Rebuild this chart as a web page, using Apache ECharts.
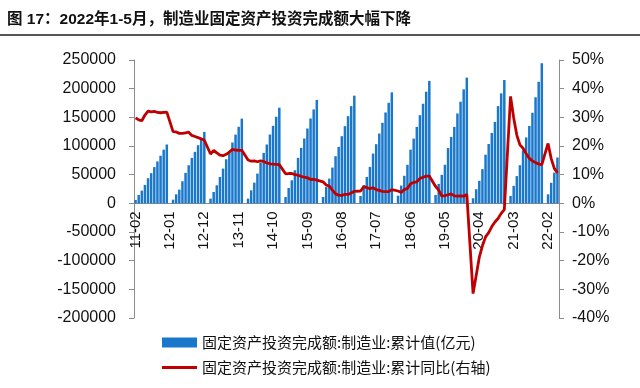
<!DOCTYPE html>
<html><head><meta charset="utf-8">
<script src="https://cdn.jsdelivr.net/npm/echarts@6/dist/echarts.min.js"></script>
<style>html,body{margin:0;padding:0;background:#fff}#c{width:640px;height:388px}</style>
</head><body><div id="c"></div>
<script>
// Monthly cumulative values (Feb..Dec), January has no data
const val2011 = [5900, 14600, 22200, 32200, 43900, 52600, 63200, 73100, 83000, 93600, 102600];
const val2012 = [6400, 15700, 23900, 38500, 53100, 66400, 79300, 89800, 101400, 113100, 124600];
const val2013 = [8200, 19800, 31500, 46000, 60600, 76900, 90900, 106100, 119900, 133500, 147700];
const val2014 = [8200, 22700, 36100, 51900, 70500, 88000, 102600, 120000, 135200, 151000, 166900];
const val2015 = [11000, 26800, 40200, 57700, 79300, 96700, 113000, 130500, 148000, 163800, 180400];
const val2016 = [11100, 28600, 43100, 62400, 82200, 98500, 117100, 134600, 152100, 169600, 187800];
const val2017 = [12800, 31500, 46000, 63500, 86800, 103200, 121800, 140500, 158500, 175400, 193600];
const val2018 = [13400, 31000, 48000, 67200, 93600, 112900, 133300, 153800, 173700, 194700, 213500];
const val2019 = [14600, 33900, 49700, 67300, 96500, 115800, 133300, 156700, 177200, 198800, 219300];
const val2020 = [8800, 24600, 39200, 59600, 84800, 103500, 122800, 142100, 169600, 191800, 215200];
const val2021 = [12800, 30500, 47500, 66500, 92400, 115000, 135000, 158000, 185000, 212000, 244400];
const val2022 = [15700, 35800, 53500, 80000];

// Cumulative YoY (%), Feb..Dec
const yoy2011 = [29.8, 29.1, 28.8, 30.8, 32.2, 31.9, 32.1, 31.7, 31.6, 31.7, 31.8];
const yoy2012 = [25.0, 24.9, 24.4, 24.4, 24.6, 24.8, 23.7, 23.3, 22.9, 22.5, 22.0];
const yoy2013 = [17.2, 18.5, 17.6, 16.8, 16.6, 17.1, 17.9, 18.8, 18.6, 18.5, 18.5];
const yoy2014 = [15.1, 14.7, 14.8, 14.5, 14.8, 14.6, 14.1, 13.8, 13.7, 13.6, 13.5];
const yoy2015 = [10.3, 10.4, 10.4, 10.0, 9.8, 9.4, 9.1, 8.9, 8.3, 8.4, 8.1];
const yoy2016 = [7.5, 6.4, 6.0, 4.6, 3.3, 2.8, 2.8, 3.1, 3.1, 3.6, 4.2];
const yoy2017 = [4.3, 5.8, 5.5, 5.1, 5.5, 4.8, 4.5, 4.2, 4.1, 4.1, 4.8];
const yoy2018 = [4.3, 3.8, 4.8, 5.2, 6.8, 7.3, 7.5, 8.7, 9.1, 9.5, 9.5];
const yoy2019 = [5.9, 4.6, 2.5, 2.7, 3.0, 3.3, 2.6, 2.5, 2.6, 2.5, 3.1];
const yoy2020 = [-31.5, -25.2, -18.8, -14.8, -11.7, -10.2, -8.1, -6.5, -5.3, -3.5, -2.2];
const yoy2021 = [37.3, 29.8, 23.8, 20.4, 19.2, 17.3, 15.7, 14.8, 14.2, 13.7, 13.5];
const yoy2022 = [20.9, 15.6, 12.2, 10.6];

const leftTicks = {min: -200000, max: 250000, interval: 50000};
const rightTicks = {min: -40, max: 50, interval: 10};
const seriesNames = ['固定资产投资完成额:制造业:累计值(亿元)', '固定资产投资完成额:制造业:累计同比(右轴)'];
const titleText = '图 17：2022年1-5月，制造业固定资产投资完成额大幅下降';

const valYears = [val2011, val2012, val2013, val2014, val2015, val2016, val2017, val2018, val2019, val2020, val2021, val2022];
const yoyYears = [yoy2011, yoy2012, yoy2013, yoy2014, yoy2015, yoy2016, yoy2017, yoy2018, yoy2019, yoy2020, yoy2021, yoy2022];

// Build month categories 11-02 .. 22-05 and series with null for January
const categories = [], barData = [], lineData = [];
valYears.forEach((arr, yi) => {
  const yy = String(11 + yi).padStart(2, '0');
  if (yi > 0) { categories.push(yy + '-01'); barData.push(null); lineData.push(null); }
  arr.forEach((v, mi) => {
    categories.push(yy + '-' + String(mi + 2).padStart(2, '0'));
    barData.push(v);
    lineData.push(yoyYears[yi][mi]);
  });
});

const GRID_TOP = 60, GRID_BOTTOM = 70, H = 388;
const plotH = H - GRID_TOP - GRID_BOTTOM;
// place the category axis at the zero of the left value axis
const zeroFromBottom = plotH * (0 - leftTicks.min) / (leftTicks.max - leftTicks.min);

const chart = echarts.init(document.getElementById('c'));
const axisColor = '#8c8c8c';
const legendText = {fontSize: 15, color: '#111', fontFamily: '"Noto Sans CJK SC"'};
chart.setOption({
  animation: false,
  title: {
    text: titleText, left: 2, top: 7,
    textStyle: {fontSize: 15.5, fontWeight: 'bold', color: '#111', fontFamily: 'Arial, "Noto Sans CJK SC"'}
  },
  graphic: [{type: 'rect', shape: {x: 0, y: 34, width: 640, height: 2}, style: {fill: '#555'}}],
  grid: {left: 134, right: 81, top: GRID_TOP, bottom: GRID_BOTTOM},
  legend: [{
    left: 157, top: 330, itemWidth: 35, itemHeight: 10,
    textStyle: legendText,
    data: [{name: seriesNames[0], icon: 'rect'}]
  }, {
    left: 157, top: 355, itemWidth: 35, itemHeight: 3,
    textStyle: legendText,
    data: [{name: seriesNames[1], icon: 'rect', itemStyle: {color: '#C00000'}}]
  }],
  xAxis: {
    type: 'category', data: categories, boundaryGap: true, position: 'bottom',
    offset: -zeroFromBottom,
    axisLine: {onZero: false, lineStyle: {color: axisColor, width: 1}},
    axisTick: {interval: 10, alignWithLabel: true, length: 4, lineStyle: {color: axisColor}},
    axisLabel: {interval: 10, rotate: 90, margin: 8, fontSize: 15, color: '#111', fontFamily: 'Arial'}
  },
  yAxis: [{
    type: 'value', min: leftTicks.min, max: leftTicks.max, interval: leftTicks.interval,
    splitLine: {show: false},
    axisLine: {show: true, onZero: false, lineStyle: {color: axisColor}},
    axisTick: {show: true, length: 5, lineStyle: {color: axisColor}},
    axisLabel: {fontSize: 16, color: '#111', margin: 18, fontFamily: 'Arial', formatter: v => String(v)}
  }, {
    type: 'value', min: rightTicks.min, max: rightTicks.max, interval: rightTicks.interval,
    splitLine: {show: false},
    axisLine: {show: true, onZero: false, lineStyle: {color: axisColor}},
    axisTick: {show: true, length: 5, lineStyle: {color: axisColor}},
    axisLabel: {fontSize: 16, color: '#111', margin: 13, fontFamily: 'Arial', formatter: '{value}%'}
  }],
  series: [{
    name: seriesNames[0], type: 'bar', data: barData, yAxisIndex: 0,
    barWidth: '80%', itemStyle: {color: '#1a78cc'}
  }, {
    name: seriesNames[1], type: 'line', data: lineData, yAxisIndex: 1,
    symbol: 'none', connectNulls: true,
    lineStyle: {color: '#C00000', width: 2.8}, itemStyle: {color: '#C00000'}
  }]
});
</script></body></html>
